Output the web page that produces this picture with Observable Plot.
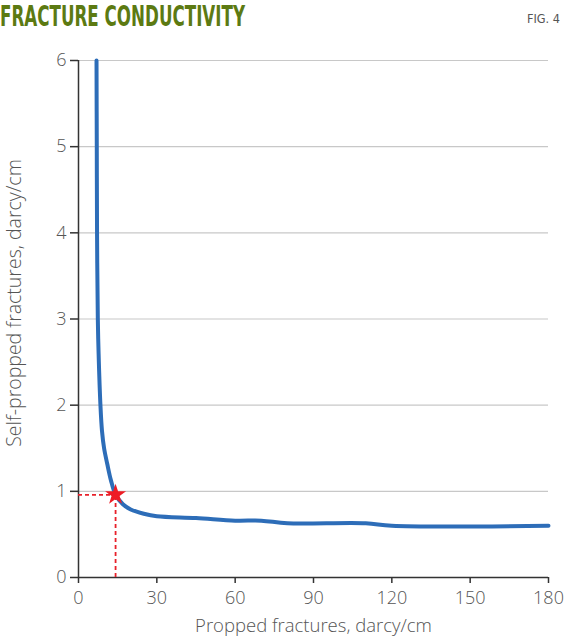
<!DOCTYPE html>
<html>
<head>
<meta charset="utf-8">
<script src="https://cdn.jsdelivr.net/npm/d3@7"></script>
<script src="https://cdn.jsdelivr.net/npm/@observablehq/plot@0.6"></script>
<style>
  html, body { margin: 0; padding: 0; background: #fff; }
  #wrap { position: relative; width: 573px; height: 640px; overflow: hidden; }
  #title { position: absolute; left: 0; top: 0; }
  #chart { position: absolute; left: 0; top: 30px; }
</style>
</head>
<body>
<div id="wrap">
  <svg id="title" width="573" height="32">
    <text x="0" y="26" textLength="245" lengthAdjust="spacingAndGlyphs"
      style="font-family:'DejaVu Sans Condensed','DejaVu Sans';font-weight:bold;font-size:28px;fill:#5c7a12">FRACTURE CONDUCTIVITY</text>
    <text x="560" y="23" text-anchor="end" textLength="33" lengthAdjust="spacingAndGlyphs"
      style="font-family:'DejaVu Sans Condensed','DejaVu Sans';font-size:13px;fill:#555">FIG. 4</text>
  </svg>
  <div id="chart"></div>
</div>
<script>
const xTicks = [0, 30, 60, 90, 120, 150, 180];
const yTicks = [0, 1, 2, 3, 4, 5, 6];
const xLabel = "Propped fractures, darcy/cm";
const yLabel = "Self-propped fractures, darcy/cm";

// curve: propped conductivity (x) vs self-propped conductivity (y)
const curveX = [6.9, 7.0, 7.1, 7.4, 7.7, 8.4, 9.0, 9.8, 11.0, 12.4, 14.2, 17, 20, 25, 30, 45, 60, 70, 80, 110, 120, 180];
const curveY = [6.0, 5.0, 4.0, 3.0, 2.6, 2.0, 1.7, 1.5, 1.32, 1.13, 0.96, 0.85, 0.79, 0.74, 0.71, 0.69, 0.66, 0.66, 0.63, 0.63, 0.60, 0.60];

// highlighted point
const starX = [14.2];
const starY = [0.96];

const curve = curveX.map((x, i) => ({x, y: curveY[i]}));
const star = starX.map((x, i) => ({x, y: starY[i]}));

const font = "'Open Sans', 'Liberation Sans', sans-serif";

const chart = Plot.plot({
  width: 573,
  height: 610,
  marginTop: 30,
  marginBottom: 63,
  marginLeft: 78,
  marginRight: 25,
  style: {fontFamily: font, fontSize: "18px", fontWeight: 300, color: "#555", background: "#fff", overflow: "visible"},
  x: {domain: [0, 180], label: null},
  y: {domain: [0, 6], label: null},
  marks: [
    Plot.gridY(yTicks.slice(1), {stroke: "#c8c8c8", strokeOpacity: 1, strokeWidth: 1.2}),
    Plot.axisX(xTicks, {tickSize: 6, tickPadding: 8, stroke: "#333", strokeWidth: 1.5, fill: "#555", tickFormat: "d", label: null}),
    Plot.axisY(yTicks, {tickSize: 8, tickPadding: 4, stroke: "#333", strokeWidth: 1.5, fill: "#555", tickFormat: "d", label: null}),
    Plot.ruleY([0], {stroke: "#333", strokeWidth: 1.5}),
    Plot.ruleX([0], {stroke: "#333", strokeWidth: 1.5}),
    Plot.ruleY(star, {y: "y", x1: 0, x2: "x", stroke: "#e8202a", strokeWidth: 1.8, strokeDasharray: "4,3"}),
    Plot.ruleX(star, {x: "x", y1: 0, y2: "y", stroke: "#e8202a", strokeWidth: 1.8, strokeDasharray: "4,3"}),
    Plot.line(curve, {x: "x", y: "y", stroke: "#2d6db8", strokeWidth: 4, curve: "catmull-rom"}),
    Plot.dot(star, {x: "x", y: "y", symbol: "star", r: 6.6, fill: "#ee1c25", stroke: "none"}),
    Plot.text([xLabel], {frameAnchor: "bottom", dy: 54, fill: "#555", fontSize: 18.5}),
    Plot.text([yLabel], {frameAnchor: "left", textAnchor: "middle", rotate: -90, dx: -64, dy: -16, fill: "#555", fontSize: 19.5})
  ]
});
document.getElementById("chart").appendChild(chart);
</script>
</body>
</html>
